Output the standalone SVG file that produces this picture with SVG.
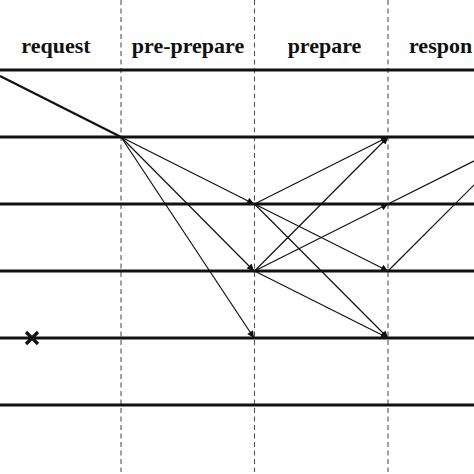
<svg xmlns="http://www.w3.org/2000/svg" width="474" height="474" viewBox="0 0 474 474">
<style>
.lane{stroke:#111;stroke-width:3.2;fill:none}
.phase{stroke:#555;stroke-width:1.1;stroke-dasharray:5 3.5;fill:none}
.msg{stroke:#111;stroke-width:1.2;fill:none;marker-end:url(#ah)}
.lbl{font-family:"Liberation Serif","Times New Roman",serif;font-weight:bold;font-size:22px;fill:#111;text-anchor:middle}
</style>
<defs>
<marker id="ah" viewBox="0 0 10 10" refX="10" refY="5" markerWidth="9" markerHeight="7" markerUnits="userSpaceOnUse" orient="auto">
<path d="M0,0 L10,5 L0,10 z" fill="#111"/>
</marker>
</defs>
<rect width="474" height="474" fill="#fff"/>
<g id="phases">
<line class="phase" x1="121" y1="0" x2="121" y2="472"/>
<line class="phase" x1="254.5" y1="0" x2="254.5" y2="472"/>
<line class="phase" x1="388" y1="0" x2="388" y2="472"/>
</g>
<g id="labels">
<text class="lbl" x="56" y="53">request</text>
<text class="lbl" x="188" y="53">pre-prepare</text>
<text class="lbl" x="324.5" y="53">prepare</text>
<text class="lbl" x="409" y="53" style="text-anchor:start">respon</text>
</g>
<g id="lanes">
<line id="client" class="lane" x1="0" y1="70" x2="474" y2="70"/>
<line id="replica0" class="lane" x1="0" y1="137" x2="474" y2="137"/>
<line id="replica1" class="lane" x1="0" y1="204" x2="474" y2="204"/>
<line id="replica2" class="lane" x1="0" y1="271" x2="474" y2="271"/>
<line id="replica3" class="lane" x1="0" y1="338" x2="474" y2="338"/>
<line id="replica4" class="lane" x1="0" y1="405" x2="474" y2="405"/>
</g>
<g id="fault">
<path d="M26,332 L38,344 M38,332 L26,344" stroke="#111" stroke-width="3.2" fill="none"/>
</g>
<g id="connectors">
<line x1="0" y1="76" x2="121" y2="137" stroke="#111" stroke-width="2.2"/>
<line class="msg" x1="121" y1="137" x2="254" y2="204"/>
<line class="msg" x1="121" y1="137" x2="254" y2="271"/>
<line class="msg" x1="121" y1="137" x2="254" y2="338"/>
<line class="msg" x1="254.5" y1="204" x2="388" y2="137"/>
<line class="msg" x1="254.5" y1="204" x2="388" y2="271"/>
<line class="msg" x1="254.5" y1="204" x2="388" y2="338"/>
<line class="msg" x1="254.5" y1="271" x2="388" y2="137"/>
<line class="msg" x1="254.5" y1="271" x2="388" y2="204"/>
<line class="msg" x1="254.5" y1="271" x2="388" y2="338"/>
<line x1="388" y1="204" x2="522" y2="137" stroke="#111" stroke-width="1.2"/>
<line x1="388" y1="271" x2="522" y2="137" stroke="#111" stroke-width="1.2"/>
</g>
</svg>
